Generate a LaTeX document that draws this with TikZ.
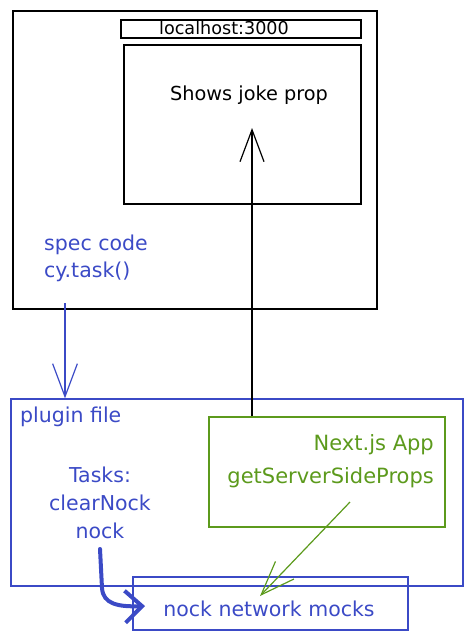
\documentclass[tikz,border=0pt]{standalone}
\usepackage{fontspec}
\setmainfont{DejaVu Sans}
\usetikzlibrary{arrows.meta}
\definecolor{skblue}{HTML}{3B4AC6}
\definecolor{skgreen}{HTML}{5C9A1C}
\tikzset{
  blackbox/.style={draw=black, line width=1.6pt, inner sep=0pt},
  bluebox/.style={draw=skblue, line width=1.2pt, inner sep=0pt},
  greenbox/.style={draw=skgreen, line width=1.2pt, inner sep=0pt},
  lbl/.style={inner sep=0pt, font=\fontsize{20.5}{28}\selectfont},
  barb/.style={-{Straight Barb[length=#1, width=0.75*#1, line width=1.2pt]}},
}
\begin{document}
\begin{tikzpicture}[x=1pt, y=-1pt]
\useasboundingbox (0,0) rectangle (474,640);
% black outer frame
\node[blackbox, minimum width=364pt, minimum height=298pt] (outer) at (195,160) {};
\node[blackbox, minimum width=240pt, minimum height=18pt] (url) at (241,29) {};
\node[lbl, font=\fontsize{17.6}{20}\selectfont] (urltxt) at (224,28) {localhost:3000};
\node[blackbox, minimum width=237pt, minimum height=159pt] (screen) at (242.5,124.5) {};
\node[lbl, font=\fontsize{19.3}{24}\selectfont] (shows) at (249,95) {Shows joke prop};
% spec code
\node[lbl, text=skblue, font=\fontsize{20.5}{27}\selectfont, align=left, anchor=west] (spec) at (44,258) {spec code\\cy.task()};
% plugin file box
\node[bluebox, minimum width=452pt, minimum height=187pt] (plugin) at (237,492.5) {};
\node[lbl, text=skblue, anchor=west] (plugintxt) at (20,417) {plugin file};
\node[lbl, text=skblue, align=center] (tasks) at (100,503) {Tasks:\\clearNock\\nock};
% green Next.js box
\node[greenbox, minimum width=236pt, minimum height=110pt] (next) at (327,472) {};
\node[lbl, text=skgreen, font=\fontsize{21}{33}\selectfont, align=right, anchor=east] (nexttxt) at (434,461) {Next.js App\\getServerSideProps};
% nock network mocks
\node[bluebox, minimum width=275pt, minimum height=53pt] (mocks) at (270.5,603.5) {};
\node[lbl, text=skblue] (mockstxt) at (269,609) {nock network mocks};
% connectors
\coordinate (tipblack) at (252,128);
\draw[line width=1.6pt, barb=32pt] (next.north -| tipblack) -- (tipblack);
\coordinate (specfoot) at (65,303);
\draw[skblue, line width=1.2pt, barb=33pt] (specfoot) -- (specfoot |- plugin.north);
\coordinate (greenstart) at (350,502);
\draw[skgreen, line width=1.2pt, barb=34pt] (greenstart) -- (260,596);
\coordinate (nockfoot) at (100,549);
\draw[skblue, line width=4pt, line cap=round, -{Straight Barb[length=17pt, width=32pt, line width=4pt]}]
  (nockfoot) -- (102,588) .. controls (103,604) and (118,607) .. (145,606);
\end{tikzpicture}
\end{document}
